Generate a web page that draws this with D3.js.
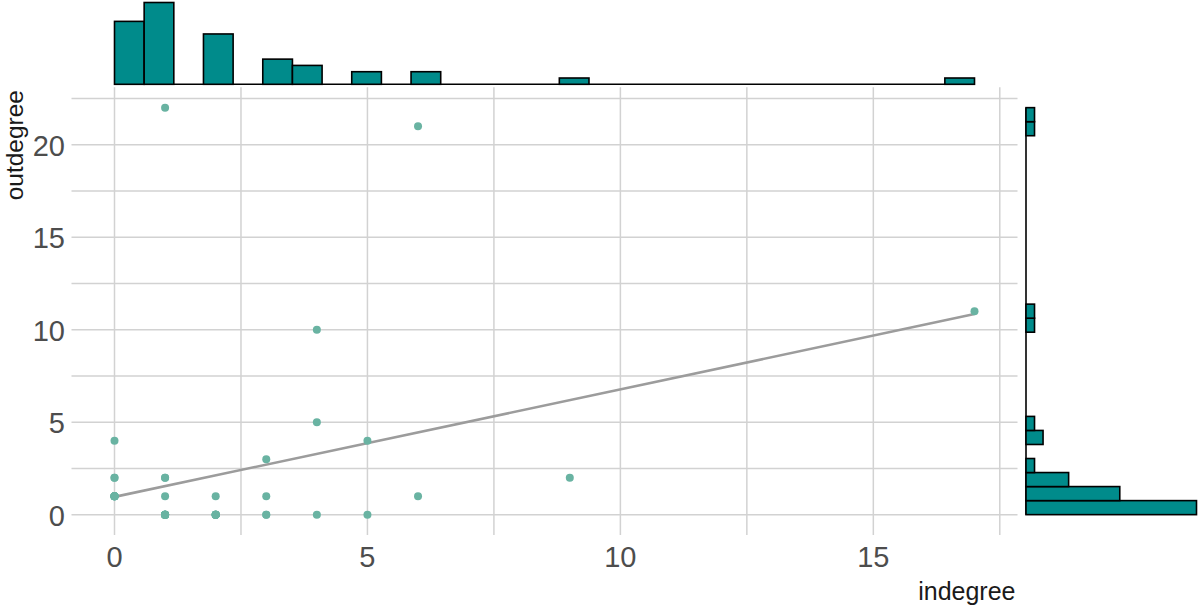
<!DOCTYPE html>
<html>
<head>
<meta charset="utf-8">
<script src="https://cdn.jsdelivr.net/npm/d3@7"></script>
<style>
  html, body { margin: 0; padding: 0; background: #ffffff; }
  svg { display: block; font-family: "Liberation Sans", Arial, sans-serif; }
</style>
</head>
<body>
<svg id="chart" width="1200" height="609"></svg>
<script>
// ---- data ----
// distinct (indegree, outdegree) pairs and how many nodes share each pair
const pointIn   = [0, 0, 0, 1,  1, 1, 1, 2, 2, 3, 3, 3, 4,  4, 4, 5, 5, 6,  6, 9, 17];
const pointOut  = [4, 2, 1, 22, 2, 1, 0, 1, 0, 3, 1, 0, 10, 5, 0, 4, 0, 21, 1, 2, 11];
const pointMult = [1, 2, 7, 1,  2, 1, 9, 1, 7, 1, 1, 2, 1,  1, 1, 1, 1, 1,  1, 1, 1];
const xTicks = [0, 5, 10, 15];
const yTicks = [0, 5, 10, 15, 20];
const xMinor = [2.5, 7.5, 12.5, 17.5];
const yMinor = [2.5, 7.5, 12.5, 17.5, 22.5];
const xTitle = "indegree";
const yTitle = "outdegree";
const nBins = 30;

// expand into one record per node
const nodes = [];
pointIn.forEach((v, i) => { for (let k = 0; k < pointMult[i]; k++) nodes.push({x: v, y: pointOut[i]}); });

const svg = d3.select("#chart");

// ---- scales ----
const xMin = d3.min(nodes, d => d.x), xMax = d3.max(nodes, d => d.x);
const yMin = d3.min(nodes, d => d.y), yMax = d3.max(nodes, d => d.y);
const xPad = (xMax - xMin) * 0.05, yPad = (yMax - yMin) * 0.05;
const x = d3.scaleLinear().domain([xMin - xPad, xMax + xPad]).range([71.5, 1017.5]);
const y = d3.scaleLinear().domain([yMin - yPad, yMax + yPad]).range([535, 87.3]);

// ---- grid ----
const grid = svg.append("g").attr("stroke", "#d2d2d2").attr("stroke-width", 1.5);
grid.selectAll("line.gx").data(xTicks.concat(xMinor)).join("line")
  .attr("class", "gx")
  .attr("x1", d => x(d)).attr("x2", d => x(d))
  .attr("y1", y.range()[0]).attr("y2", y.range()[1]);
grid.selectAll("line.gy").data(yTicks.concat(yMinor)).join("line")
  .attr("class", "gy")
  .attr("x1", x.range()[0]).attr("x2", x.range()[1])
  .attr("y1", d => y(d)).attr("y2", d => y(d));

// ---- tick labels ----
svg.append("g").selectAll("text").data(xTicks).join("text")
  .attr("x", d => x(d)).attr("y", 567)
  .attr("text-anchor", "middle").attr("font-size", 29).attr("fill", "#4d4d4d")
  .text(d => d);
svg.append("g").selectAll("text").data(yTicks).join("text")
  .attr("x", 65).attr("y", d => y(d) + 11)
  .attr("text-anchor", "end").attr("font-size", 29).attr("fill", "#4d4d4d")
  .text(d => d);

// ---- axis titles ----
svg.append("text").attr("x", x.range()[1] - 2).attr("y", 600)
  .attr("text-anchor", "end").attr("font-size", 25).attr("fill", "#1a1a1a")
  .text(xTitle);
svg.append("text").attr("transform", "translate(23,90) rotate(-90)")
  .attr("text-anchor", "end").attr("font-size", 24.5).attr("fill", "#1a1a1a")
  .text(yTitle);

// ---- regression line (least squares from the data) ----
const mx = d3.mean(nodes, d => d.x), my = d3.mean(nodes, d => d.y);
const sxy = d3.sum(nodes, d => (d.x - mx) * (d.y - my));
const sxx = d3.sum(nodes, d => (d.x - mx) * (d.x - mx));
const slope = sxy / sxx, intercept = my - slope * mx;
const fit = [xMin, xMax].map(v => ({x: v, y: intercept + slope * v}));
svg.append("path").datum(fit)
  .attr("d", d3.line().x(d => x(d.x)).y(d => y(d.y)))
  .attr("fill", "none").attr("stroke", "#9c9c9c").attr("stroke-width", 2.6);

// ---- points ----
svg.append("g").selectAll("circle").data(nodes).join("circle")
  .attr("cx", d => x(d.x)).attr("cy", d => y(d.y)).attr("r", 4)
  .attr("fill", "#69b3a2");

// ---- top marginal histogram (indegree) ----
const bwX = (xMax - xMin) / (nBins - 1);
const binX = d3.bin().domain([xMin, xMax])
  .thresholds(d3.range(1, nBins - 1).map(i => xMin + i * bwX))
  .value(d => d.x)(nodes);
const cTop = d3.scaleLinear().domain([0, d3.max(binX, b => b.length)]).range([84.3, 2.5]);
const topHist = svg.append("g");
topHist.append("line")
  .attr("x1", x(xMin)).attr("x2", x(xMax)).attr("y1", cTop(0)).attr("y2", cTop(0))
  .attr("stroke", "#000").attr("stroke-width", 1.6);
topHist.selectAll("rect").data(binX.filter(b => b.length > 0)).join("rect")
  .attr("x", b => x(b.x0)).attr("width", b => x(b.x1) - x(b.x0))
  .attr("y", b => cTop(b.length)).attr("height", b => cTop(0) - cTop(b.length))
  .attr("fill", "#008B8B").attr("stroke", "#000").attr("stroke-width", 1.6);

// ---- right marginal histogram (outdegree) ----
const bwY = (yMax - yMin) / (nBins - 1);
const binY = d3.bin().domain([yMin, yMax])
  .thresholds(d3.range(1, nBins - 1).map(i => yMin + i * bwY))
  .value(d => d.y)(nodes);
const cRight = d3.scaleLinear().domain([0, d3.max(binY, b => b.length)]).range([1026, 1196.5]);
const rightHist = svg.append("g");
rightHist.append("line")
  .attr("x1", cRight(0)).attr("x2", cRight(0)).attr("y1", y(yMin)).attr("y2", y(yMax))
  .attr("stroke", "#000").attr("stroke-width", 1.6);
rightHist.selectAll("rect").data(binY.filter(b => b.length > 0)).join("rect")
  .attr("x", cRight(0)).attr("width", b => cRight(b.length) - cRight(0))
  .attr("y", b => y(b.x1)).attr("height", b => y(b.x0) - y(b.x1))
  .attr("fill", "#008B8B").attr("stroke", "#000").attr("stroke-width", 1.6);
</script>
</body>
</html>
